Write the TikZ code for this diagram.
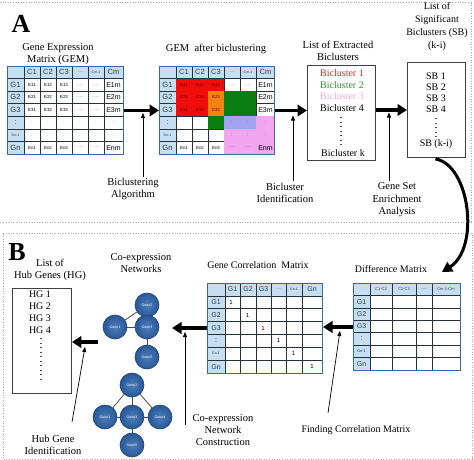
\documentclass[tikz,border=0pt]{standalone}
\usepackage{fontspec}
\setmainfont{Liberation Serif}
\setsansfont{Liberation Sans}
\usetikzlibrary{arrows.meta,backgrounds}
\definecolor{hdrblue}{HTML}{C5DEF2}
\definecolor{gridc}{HTML}{26313C}
\definecolor{bordc}{HTML}{3A6A98}
\definecolor{hdrtext}{HTML}{2E3E50}
\definecolor{netblue}{HTML}{2E68B0}
\definecolor{bred}{HTML}{F20D0D}
\definecolor{borange}{HTML}{F5820F}
\definecolor{bgreen}{HTML}{0B7D12}
\definecolor{bviolet}{HTML}{A3A3F2}
\definecolor{bpink}{HTML}{F3A6F0}
\definecolor{t1}{HTML}{D42A2A}
\definecolor{t2}{HTML}{2E9A2E}
\definecolor{t3}{HTML}{E8A8E0}
\newcommand\sixdots{......}
\tikzset{
  lbl/.style={font=\fontsize{10.5}{12}\selectfont, align=center, inner sep=0pt},
  bigletter/.style={font=\bfseries\fontsize{26}{28}\selectfont, inner sep=0pt},
  hd/.style={font=\sffamily\fontsize{7.5}{8}\selectfont, text=hdrtext, inner sep=0pt},
  hdtiny/.style={font=\sffamily\fontsize{3.5}{4}\selectfont, text=hdrtext, inner sep=0pt},
  ecell/.style={font=\sffamily\fontsize{4.4}{5}\selectfont, inner sep=0pt},
  emcell/.style={font=\sffamily\fontsize{7}{8}\selectfont, inner sep=0pt},
  gridline/.style={draw=gridc, line width=0.7pt},
  tbl/.style={draw=bordc, line width=1pt, rectangle, inner sep=0pt, anchor=north west},
  listbox/.style={draw=black!75, line width=0.9pt, rectangle, inner sep=0pt, anchor=north west},
  listtxt/.style={font=\fontsize{10}{12}\selectfont, inner sep=0pt},
  vdots/.style={line width=1.1pt, dash pattern=on 1.1pt off 3.4pt, black!70},
  fatarrow/.style={line width=3.6pt, -{Triangle[length=9.5pt,width=11.5pt]}},
  thinarrow/.style={line width=0.7pt, -{Triangle[length=5pt,width=4pt]}},
  frame/.style={line width=1pt, gray!70, dash pattern=on 1pt off 1.6pt},
  gene/.style={circle, minimum size=24pt, inner sep=0pt, inner color=netblue!85!white, outer color=netblue!85!black, draw=netblue!65!black, line width=0.6pt, text=white, font=\sffamily\fontsize{3.5}{4}\selectfont},
  edge/.style={draw=gray!60!black, line width=0.8pt},
}
\newcommand\gembase{%
  \fill[white] (7,66) rectangle (123,154);
  \fill[hdrblue] (7,66) rectangle (123,78.57);
  \fill[hdrblue] (7,66) rectangle (24,154);
  \foreach \x in {24,40,56,72,88,104} \draw[gridline] (\x,66)--(\x,154);
  \foreach \y in {78.57,91.14,103.71,116.29,128.86,141.43} \draw[gridline] (7,\y)--(123,\y);
}
\newcommand\gemtext[2]{%
  \foreach \x/\t [count=\i] in {32/C1,48/C2,64/C3} \node[hd] (#1h\i) at (\x,72.3) {\t};
  \node[hdtiny] (#1h4) at (80,72.3) {\sixdots};
  \node[hdtiny] (#1h5) at (96,72.3) {Cm-1};
  \node[hd] (#1h6) at (113.5,72.3) {Cm};
  \foreach \y/\t [count=\i] in {84.9/G1,97.4/G2,110/G3,122.6/:,147.7/Gn} \node[hd] (#1r\i) at (15.5,\y) {\t};
  \node[hdtiny] (#1r6) at (15.5,135.1) {Gn-1};
  \foreach \y/\r [count=\i] in {84.9/1,97.4/2,110/3} {
    \node[ecell, text=#2] (#1a\i) at (32,\y) {E\r1};
    \node[ecell, text=#2] (#1b\i) at (48,\y) {E\r2};
    \node[ecell, text=#2] (#1c\i) at (64,\y) {E\r3};
    \node[ecell, text=black!60] (#1d\i) at (80,\y) {\sixdots};
    \node[ecell, text=black!60] (#1e\i) at (96,\y) {\sixdots};
    \node[emcell] (#1f\i) at (113.5,\y) {E\r m};
  }
  \foreach \y [count=\j] in {122.6,135.1} \foreach \x [count=\i] in {32,48,64,80,96,113.5}
    \node[ecell, text=black!60] (#1p\j\i) at (\x,\y) {:};
  \node[ecell] (#1g1) at (32,147.7) {En1};
  \node[ecell] (#1g2) at (48,147.7) {En2};
  \node[ecell] (#1g3) at (64,147.7) {En3};
  \node[ecell, text=black!60] (#1g4) at (80,147.7) {\sixdots};
  \node[ecell, text=black!60] (#1g5) at (96,147.7) {\sixdots};
  \node[emcell] (#1g6) at (113.5,147.7) {Enm};
}
\begin{document}
\begin{tikzpicture}[x=1pt,y=-1pt]
\useasboundingbox (0,0) rectangle (474,460);
% frames
\draw[frame] (0,3) -- (471,3) -- (471,222) -- (0,222);
\draw[frame] (3,233) -- (472,233) -- (472,459) -- (3,459) -- cycle;
\node[bigletter] (lA) at (21,24) {A};
\node[bigletter] (lB) at (17,252) {B};

% ---------- matrix 1
\node[lbl] (t1) at (58,54) {Gene Expression\\Matrix (GEM)};
\gembase
\gemtext{ma}{black}
\node[tbl, minimum width=116pt, minimum height=88pt] (m1) at (7,66) {};

% ---------- matrix 2
\node[lbl] (t2) at (216,49) {GEM~ after biclustering};
\begin{scope}[xshift=152pt]
\gembase
\fill[bred] (24,78.57) rectangle (72,91.14);
\fill[bred] (24,91.14) rectangle (56,116.29);
\fill[borange] (56,91.14) rectangle (72,116.29);
\fill[bgreen] (72,91.14) rectangle (104,116.29);
\fill[bgreen] (56,116.29) rectangle (72,128.86);
\fill[bviolet] (72,116.29) rectangle (104,128.86);
\fill[bpink] (104,116.29) rectangle (123,154);
\fill[bpink] (72,128.86) rectangle (104,154);
\gemtext{mb}{red!45!black}
\end{scope}
\node[tbl, minimum width=115pt, minimum height=88pt] (m2) at (159,66) {};

% ---------- list of extracted biclusters
\node[lbl] (t3) at (338,51) {List of Extracted\\Biclusters};
\node[listbox, minimum width=68pt, minimum height=95pt] (ld) at (307,65) {};
\node[listtxt, text=t1] (b1) at (342,73) {Bicluster 1};
\node[listtxt, text=t2] (b2) at (342,85) {Bicluster 2};
\node[listtxt, text=t3] (b3) at (342,96.5) {Bicluster 3};
\node[listtxt] (b4) at (342,108) {Bicluster 4};
\draw[vdots] (341,117) -- (341,146);
\node[listtxt] (bk) at (343,153) {Bicluster k};

% ---------- list of significant biclusters
\node[lbl, font=\fontsize{10}{13}\selectfont] (t4) at (437,27) {List of\\Significant\\Biclusters (SB)\\(k-i)};
\node[listbox, minimum width=58pt, minimum height=95pt] (sb) at (407,62) {};
\node[listtxt] (s1) at (436,76) {SB 1};
\node[listtxt] (s2) at (436,87.5) {SB 2};
\node[listtxt] (s3) at (436,98.5) {SB 3};
\node[listtxt] (s4) at (436,109.5) {SB 4};
\draw[vdots] (436,118) -- (436,137);
\node[listtxt] (sk) at (436,144) {SB (k-i)};

% ---------- panel A arrows
\draw[fatarrow] (m1.east) -- (m2.west);
\draw[fatarrow] (m2.east) -- (m2.east -| ld.west);
\draw[fatarrow] (ld.east |- sb.west) -- (sb.west);
\node[lbl] (a1) at (133,189) {Biclustering\\Algorithm};
\node[lbl] (a2) at (285,192.5) {Bicluster\\Identification};
\node[lbl, font=\fontsize{10.5}{12.6}\selectfont] (a3) at (397,200) {Gene Set\\Enrichment\\Analysis};
\coordinate (p1) at (143,113);
\coordinate (p2) at (293,115.5);
\coordinate (p3) at (389,112.5);
\draw[thinarrow] (p1 |- a1.north) ++(0,-1) -- (p1);
\draw[thinarrow] (p2 |- a2.north) ++(0,-2) -- (p2);
\draw[thinarrow] (p3 |- a3.north) ++(0,-2) -- (p3);

% ---------- big curved arrow
\coordinate (cend) at (442,272);
\draw[line width=3pt, -{Triangle[length=10pt,width=11pt]}] (sb.south) ++(-1,1) .. controls (470,165) and (480,248) .. (cend);

% ---------- difference matrix
\node[lbl, font=\fontsize{10}{12}\selectfont] (t5) at (391,269) {Difference Matrix};
\fill[white] (353,283) rectangle (460,370);
\fill[hdrblue] (353,283) rectangle (460,295.4);
\fill[hdrblue] (353,283) rectangle (370,370);
\foreach \x in {370,392,416,432} \draw[gridline] (\x,283)--(\x,370);
\foreach \y in {295.4,307.9,320.3,332.7,345.1,357.6} \draw[gridline] (353,\y)--(460,\y);
\foreach \x/\t [count=\i] in {381/C1-C2,404/C2-C3,424/\sixdots,446/Cm-1-Cm} \node[hdtiny, font=\sffamily\fontsize{4}{5}\selectfont] (dh\i) at (\x,289.2) {\t};
\foreach \y/\t [count=\i] in {301.6/G1,314.1/G2,326.5/G3,338.9/:,363.8/Gn} \node[hd, font=\sffamily\fontsize{7}{8}\selectfont] (dr\i) at (361.5,\y) {\t};
\node[hdtiny, font=\sffamily\fontsize{4}{5}\selectfont] (dr6) at (361.5,351.4) {Gn-1};
\node[tbl, minimum width=107pt, minimum height=87pt] (dm) at (353,283) {};

% ---------- gene correlation matrix
\node[lbl, font=\fontsize{10}{12}\selectfont] (t6) at (258,265) {Gene Correlation~ Matrix};
\fill[white] (207,283) rectangle (322,373);
\fill[hdrblue] (207,283) rectangle (322,295.86);
\fill[hdrblue] (207,283) rectangle (225,373);
\foreach \x in {225,240,256,271,286,302} \draw[gridline] (\x,283)--(\x,373);
\foreach \y in {295.86,308.71,321.57,334.43,347.29,360.14} \draw[gridline] (207,\y)--(322,\y);
\foreach \x/\t [count=\i] in {232.5/G1,248/G2,263.5/G3,312/Gn} \node[hd, font=\sffamily\fontsize{7}{8}\selectfont] (ch\i) at (\x,289.4) {\t};
\node[hdtiny] (ch5) at (278.5,289.4) {\sixdots};
\node[hdtiny] (ch6) at (294,289.4) {Gn-1};
\foreach \y/\t [count=\i] in {302.3/G1,315.1/G2,328/G3,340.9/:,366.6/Gn} \node[hd, font=\sffamily\fontsize{7}{8}\selectfont] (cr\i) at (216,\y) {\t};
\node[hdtiny] (cr6) at (216,353.7) {Gn-1};
\foreach \x/\y [count=\i] in {231/302.3,247.5/315.1,263/328,278.5/340.9,293.5/353.7,312/366.6}
  \node[emcell, font=\sffamily\fontsize{6}{7}\selectfont] (one\i) at (\x,\y) {1};
\node[tbl, minimum width=115pt, minimum height=90pt] (cm) at (207,283) {};

% ---------- networks
\node[lbl] (t7) at (141,263) {Co-expression\\Networks};
\node[gene] (na2) at (147,305) {Gene2};
\node[gene] (na1) at (115,327) {Gene1};
\node[gene] (na3) at (147,327) {Gene3};
\node[gene] (na5) at (147,357) {Gene5};
\node[gene] (nb2) at (132,385) {Gene2};
\node[gene] (nb1) at (105,417) {Gene1};
\node[gene] (nb3) at (132,417) {Gene3};
\node[gene] (nb4) at (160,417) {Gene4};
\node[gene] (nb5) at (132,445) {Gene5};
\begin{scope}[on background layer]
\draw[edge] (na1) -- (na2); \draw[edge] (na2) -- (na3); \draw[edge] (na1) -- (na3); \draw[edge] (na3) -- (na5);
\draw[edge] (nb2) -- (nb1); \draw[edge] (nb2) -- (nb3); \draw[edge] (nb2) -- (nb4);
\draw[edge] (nb1) -- (nb3); \draw[edge] (nb3) -- (nb4); \draw[edge] (nb3) -- (nb5);
\end{scope}

% ---------- hub gene list
\node[lbl] (t8) at (50,270) {List of\\Hub Genes (HG)};
\node[listbox, minimum width=59pt, minimum height=105pt] (hg) at (12,288) {};
\node[listtxt] (h1) at (40,294) {HG 1};
\node[listtxt] (h2) at (40,306) {HG 2};
\node[listtxt] (h3) at (40,318) {HG 3};
\node[listtxt] (h4) at (40,330) {HG 4};
\draw[vdots] (41,338) -- (41,379);

% ---------- panel B arrows
\coordinate (netR) at (172,328);
\coordinate (netL) at (98,342);
\draw[fatarrow] (dm.west) -- (dm.west -| cm.east);
\draw[fatarrow] (cm.west |- netR) -- (netR);
\draw[fatarrow] (netL) -- (netL -| hg.east);
\node[lbl, font=\fontsize{10}{12}\selectfont] (a4) at (356,430) {Finding Correlation Matrix};
\node[lbl] (a5) at (223,430.5) {Co-expression\\Network\\Construction};
\node[lbl] (a6) at (53,444.5) {Hub Gene\\Identification};
\coordinate (q4s) at (328,413);
\coordinate (q4e) at (340,331);
\coordinate (q5s) at (185,425);
\coordinate (q5e) at (185,332);
\coordinate (q6s) at (72,422);
\coordinate (q6e) at (85,347);
\draw[thinarrow] (q4s) -- (q4e);
\draw[thinarrow] (q5s) -- (q5e);
\draw[thinarrow] (q6s) -- (q6e);
\end{tikzpicture}
\end{document}
